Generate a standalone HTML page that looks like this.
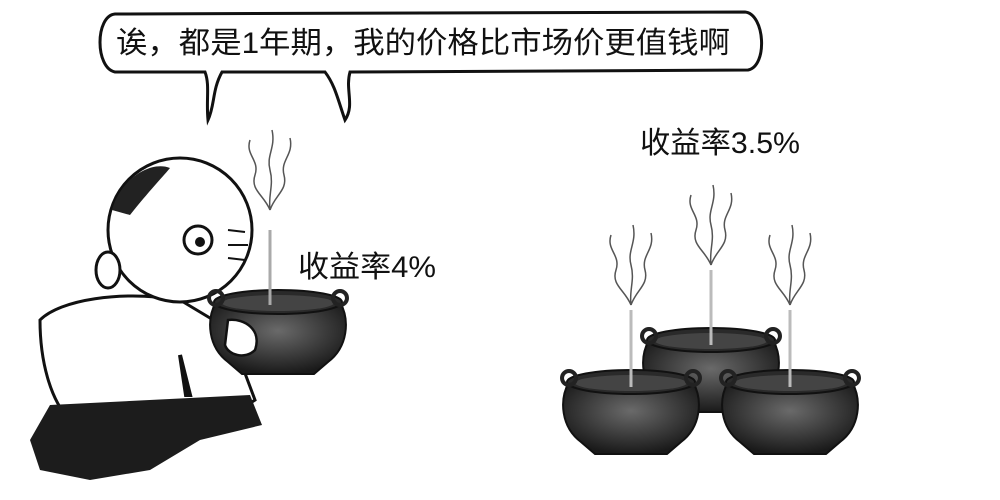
<!DOCTYPE html>
<html><head><meta charset="utf-8"><style>
html,body{margin:0;padding:0;background:#fff;width:1000px;height:500px;overflow:hidden}
svg{display:block}
text{font-family:"Liberation Sans","Noto Sans CJK SC",sans-serif;fill:#111}
</style></head><body>
<svg width="1000" height="500" viewBox="0 0 1000 500">
<defs>
<radialGradient id="pg" cx="50%" cy="40%" r="60%">
<stop offset="0" stop-color="#6a6a6a"/><stop offset="0.6" stop-color="#3a3a3a"/><stop offset="1" stop-color="#1a1a1a"/>
</radialGradient>
<g id="pot">
<path d="M-62,0 C-72,18 -70,45 -50,60 L-36,72 L36,72 L50,60 C70,45 72,18 62,0 Z" fill="url(#pg)" stroke="#111" stroke-width="2"/>
<ellipse cx="0" cy="0" rx="64" ry="12" fill="#2a2a2a" stroke="#111" stroke-width="2"/>
<ellipse cx="0" cy="1" rx="56" ry="8" fill="#444"/>
<circle cx="-62" cy="-4" r="7" fill="none" stroke="#222" stroke-width="4"/>
<circle cx="62" cy="-4" r="7" fill="none" stroke="#222" stroke-width="4"/>
</g>
<g id="smoke" fill="none" stroke="#555" stroke-width="1.5">
<path d="M0,0 C-6,-15 -20,-20 -15,-35 C-10,-50 -25,-55 -20,-70"/>
<path d="M0,0 C5,-15 18,-20 14,-35 C10,-50 24,-55 20,-72"/>
<path d="M0,0 C-2,-15 4,-25 0,-40 C-4,-55 6,-62 2,-80"/>
</g>
</defs>
<path d="M115,14 L745,12 C765,14 768,66 748,70 L350,72 C345,90 355,105 345,120 C338,100 335,85 325,72 L222,72 C212,90 215,105 208,120 C206,100 210,85 205,72 L115,72 C95,68 95,16 115,14 Z" fill="#fff" stroke="#111" stroke-width="3"/>
<text x="116" y="53" font-size="30" textLength="614" lengthAdjust="spacingAndGlyphs">诶，都是1年期，我的价格比市场价更值钱啊</text>
<text x="298" y="277" font-size="30" textLength="138" lengthAdjust="spacingAndGlyphs">收益率4%</text>
<text x="640" y="153" font-size="30" textLength="160" lengthAdjust="spacingAndGlyphs">收益率3.5%</text>
<path d="M40,320 C60,300 120,290 180,300 L230,330 L240,360 L255,400 L240,410 L70,420 C50,400 40,360 40,320 Z" fill="#fff" stroke="#111" stroke-width="3"/>
<path d="M50,405 L250,395 L262,425 L200,440 L150,470 L90,480 L40,470 L30,440 Z" fill="#1c1c1c"/>
<path d="M180,355 L190,395 L186,395 Z" fill="#111" stroke="#111" stroke-width="4"/>
<circle cx="180" cy="230" r="72" fill="#fff" stroke="#111" stroke-width="3"/>
<path d="M112,210 C120,180 150,160 170,168 C160,180 150,190 130,215 Z" fill="#222"/>
<ellipse cx="108" cy="270" rx="12" ry="18" fill="#fff" stroke="#111" stroke-width="3"/>
<circle cx="198" cy="240" r="14" fill="#fff" stroke="#111" stroke-width="3"/>
<circle cx="200" cy="242" r="5" fill="#111"/>
<path d="M228,230 L245,232 M228,245 L248,245 M228,258 L245,260" stroke="#111" stroke-width="2"/>
<use href="#pot" x="278" y="302"/>
<line x1="270" y1="230" x2="270" y2="305" stroke="#aaa" stroke-width="3"/>
<use href="#smoke" x="270" y="210"/>
<path d="M228,320 C245,318 262,330 255,350 C245,360 228,355 225,345 Z" fill="#fff" stroke="#111" stroke-width="2.5"/>
<use href="#pot" x="711" y="340"/>
<use href="#pot" x="631" y="382"/>
<use href="#pot" x="790" y="382"/>
<line x1="711" y1="270" x2="711" y2="345" stroke="#bbb" stroke-width="3"/>
<line x1="631" y1="310" x2="631" y2="387" stroke="#bbb" stroke-width="3"/>
<line x1="790" y1="310" x2="790" y2="387" stroke="#bbb" stroke-width="3"/>
<use href="#smoke" x="711" y="265"/>
<use href="#smoke" x="631" y="305"/>
<use href="#smoke" x="790" y="305"/>
</svg>
</body></html>
